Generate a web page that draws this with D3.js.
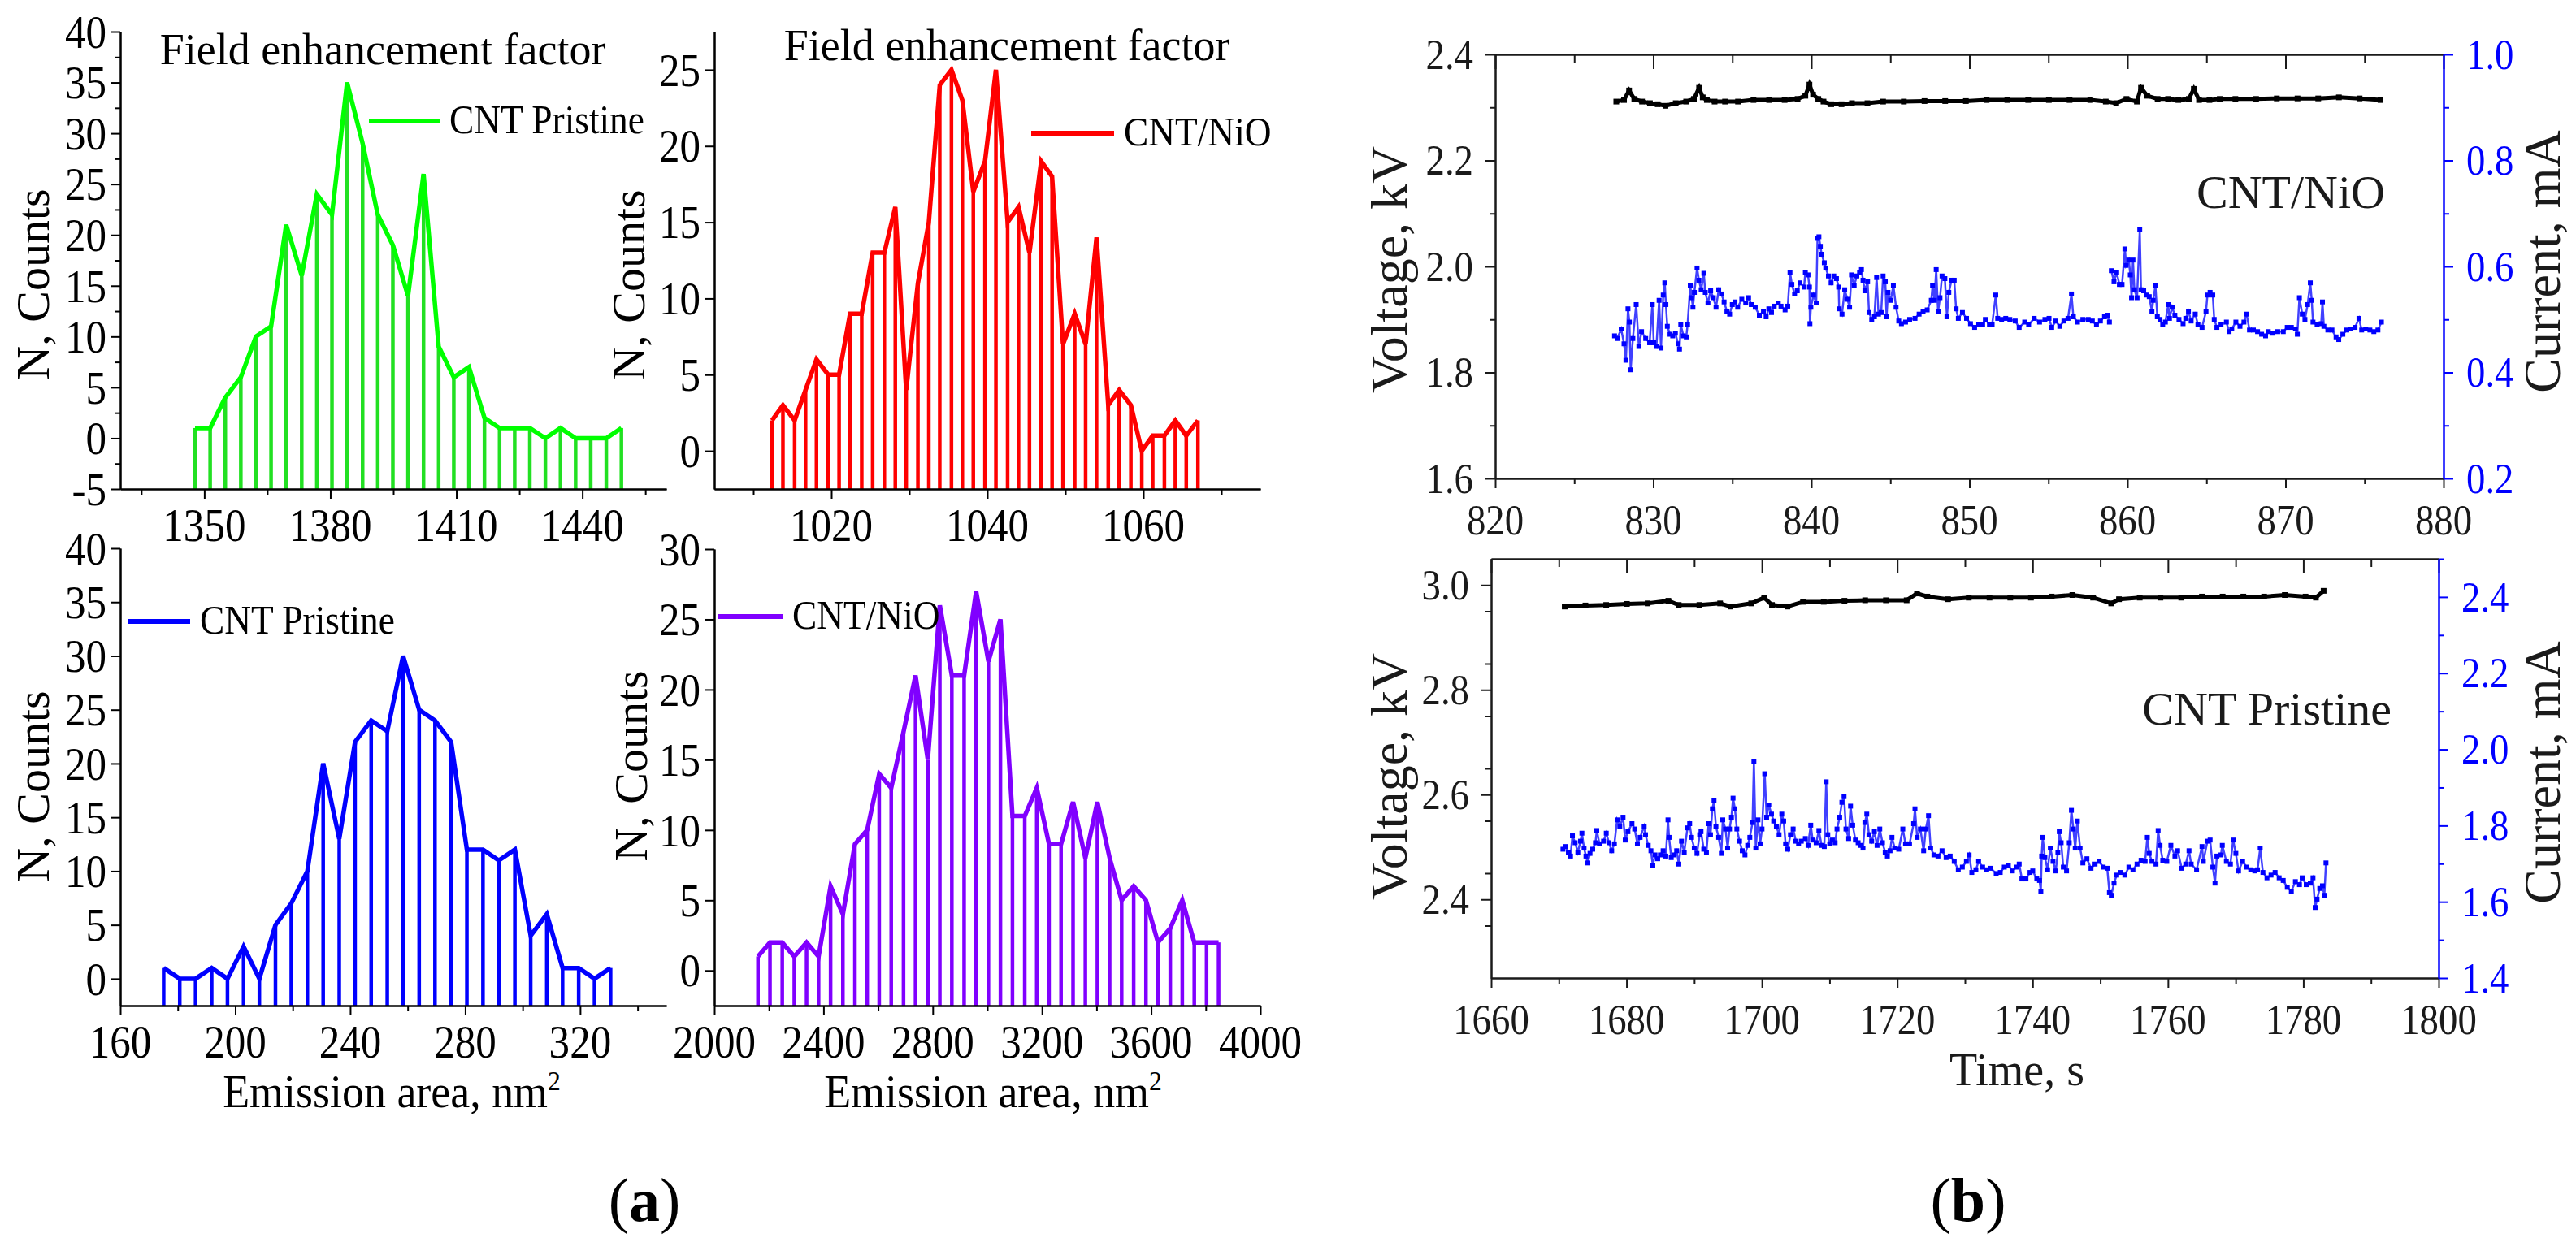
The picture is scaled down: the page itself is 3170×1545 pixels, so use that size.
<!DOCTYPE html>
<html lang="en">
<head>
<meta charset="UTF-8">
<title>Field emission statistics and stability</title>
<script src="https://d3js.org/d3.v7.min.js"></script>
<style>
  body { margin: 0; background: #fff; }
</style>
</head>
<body>
<script>
// ---------- histogram data (a) ----------
// field enhancement factor, CNT pristine
const fefPristineBins = [1347.8, 1351.4, 1355.0, 1358.7, 1362.3, 1365.9, 1369.5, 1373.2, 1376.8, 1380.4, 1384.0, 1387.7, 1391.3, 1394.9, 1398.5, 1402.2, 1405.8, 1409.4, 1413.0, 1416.7, 1420.3, 1423.9, 1427.5, 1431.2, 1434.8, 1438.4, 1442.0, 1445.7, 1449.3]
const fefPristineN = [1, 1, 4, 6, 10, 11, 21, 16, 24, 22, 35, 29, 22, 19, 14, 26, 9, 6, 7, 2, 1, 1, 1, 0, 1, 0, 0, 0, 1]
// field enhancement factor, CNT/NiO
const fefNiOBins = [1012.4, 1013.8, 1015.3, 1016.7, 1018.1, 1019.6, 1021.0, 1022.4, 1023.9, 1025.3, 1026.8, 1028.2, 1029.6, 1031.1, 1032.5, 1033.9, 1035.4, 1036.8, 1038.2, 1039.7, 1041.1, 1042.6, 1044.0, 1045.4, 1046.9, 1048.3, 1049.7, 1051.2, 1052.6, 1054.0, 1055.5, 1056.9, 1058.4, 1059.8, 1061.2, 1062.7, 1064.1, 1065.5, 1067.0]
const fefNiON = [2, 3, 2, 4, 6, 5, 5, 9, 9, 13, 13, 16, 4, 11, 15, 24, 25, 23, 17, 19, 25, 15, 16, 13, 19, 18, 7, 9, 7, 14, 3, 4, 3, 0, 1, 1, 2, 1, 2]
// emission area, CNT pristine
const areaPristineBins = [175.1, 180.7, 186.2, 191.8, 197.3, 202.9, 208.4, 214.0, 219.5, 225.1, 230.6, 236.2, 241.7, 247.3, 252.9, 258.4, 264.0, 269.5, 275.1, 280.6, 286.2, 291.7, 297.3, 302.8, 308.4, 313.9, 319.5, 325.0, 330.6]
const areaPristineN = [1, 0, 0, 1, 0, 3, 0, 5, 7, 10, 20, 13, 22, 24, 23, 30, 25, 24, 22, 12, 12, 11, 12, 4, 6, 1, 1, 0, 1]
// emission area, CNT/NiO
const areaNiOBins = [2160, 2204, 2249, 2293, 2338, 2382, 2426, 2471, 2515, 2560, 2604, 2648, 2693, 2737, 2782, 2826, 2870, 2915, 2959, 3004, 3048, 3092, 3137, 3181, 3226, 3270, 3314, 3359, 3403, 3448, 3492, 3536, 3581, 3625, 3670, 3714, 3758, 3803, 3847]
const areaNiON = [1, 2, 2, 1, 2, 1, 6, 4, 9, 10, 14, 13, 17, 21, 15, 26, 21, 21, 27, 22, 25, 11, 11, 13, 9, 9, 12, 8, 12, 8, 5, 6, 5, 2, 3, 5, 2, 2, 2]

// tick values
const fefPristineXTicks = [1350, 1380, 1410, 1440]
const fefPristineXMinor = [1335, 1365, 1395, 1425, 1455]
const fefPristineYTicks = [-5, 0, 5, 10, 15, 20, 25, 30, 35, 40]
const fefNiOXTicks = [1020, 1040, 1060]
const fefNiOXMinor = [1010, 1030, 1050, 1070]
const fefNiOYTicks = [0, 5, 10, 15, 20, 25]
const areaPristineXTicks = [160, 200, 240, 280, 320]
const areaPristineXMinor = [180, 220, 260, 300, 340]
const areaPristineYTicks = [0, 5, 10, 15, 20, 25, 30, 35, 40]
const areaNiOXTicks = [2000, 2400, 2800, 3200, 3600, 4000]
const areaNiOXMinor = [2200, 2600, 3000, 3400, 3800]
const areaNiOYTicks = [0, 5, 10, 15, 20, 25, 30]

// ---------- time series data (b): [time s, value] ----------
const niCurrent = [[827.55,.469],[827.72,.464],[827.97,.482],[828.15,.454],[828.27,.423],[828.40,.520],[828.49,.495],[828.57,.405],[828.71,.464],[828.92,.528],[829.09,.449],[829.26,.477],[829.52,.464],[829.77,.456],[829.94,.528],[830.03,.456],[830.20,.449],[830.37,.536],[830.49,.446],[830.63,.546],[830.73,.569],[830.80,.528],[830.89,.487],[831.06,.472],[831.23,.469],[831.40,.474],[831.57,.454],[831.66,.444],[831.74,.490],[831.91,.469],[832.09,.467],[832.17,.490],[832.34,.564],[832.43,.541],[832.51,.523],[832.60,.551],[832.77,.597],[832.89,.574],[833.03,.556],[833.20,.587],[833.29,.551],[833.46,.531],[833.63,.554],[833.80,.541],[833.97,.523],[834.14,.556],[834.31,.548],[834.48,.533],[834.66,.515],[834.83,.510],[835.00,.528],[835.17,.533],[835.34,.523],[835.60,.538],[835.85,.531],[836.03,.541],[836.20,.528],[836.45,.523],[836.71,.508],[836.97,.515],[837.14,.505],[837.31,.520],[837.48,.513],[837.65,.525],[837.91,.531],[838.08,.525],[838.34,.518],[838.51,.525],[838.65,.589],[838.77,.566],[838.94,.548],[839.11,.554],[839.28,.569],[839.54,.561],[839.62,.589],[839.79,.584],[839.88,.561],[839.91,.492],[839.97,.523],[840.14,.546],[840.31,.531],[840.39,.653],[840.48,.656],[840.57,.638],[840.65,.623],[840.82,.607],[840.91,.597],[841.08,.582],[841.25,.569],[841.42,.582],[841.59,.577],[841.73,.561],[841.76,.520],[841.94,.510],[842.11,.556],[842.28,.538],[842.42,.523],[842.54,.584],[842.71,.564],[842.88,.582],[843.05,.589],[843.17,.594],[843.27,.574],[843.39,.554],[843.56,.571],[843.65,.513],[843.82,.500],[843.99,.505],[844.13,.579],[844.25,.510],[844.42,.513],[844.54,.582],[844.68,.571],[844.76,.505],[844.85,.551],[845.02,.536],[845.19,.564],[845.36,.523],[845.53,.497],[845.70,.492],[845.96,.495],[846.22,.500],[846.56,.502],[846.82,.510],[847.07,.515],[847.33,.518],[847.59,.536],[847.67,.564],[847.79,.536],[847.90,.594],[848.02,.515],[848.14,.541],[848.27,.582],[848.45,.577],[848.58,.505],[848.70,.551],[848.87,.574],[849.04,.574],[849.16,.520],[849.30,.502],[849.56,.513],[849.82,.502],[850.07,.492],[850.33,.485],[850.59,.490],[850.84,.490],[851.01,.500],[851.27,.490],[851.44,.490],[851.67,.546],[851.79,.502],[852.04,.500],[852.30,.502],
  [852.56,.500],[852.90,.497],[853.15,.485],[853.50,.495],[853.75,.490],[854.10,.502],[854.44,.495],[854.78,.500],[855.04,.502],[855.21,.485],[855.47,.497],[855.72,.487],[855.98,.497],[856.24,.502],[856.46,.548],[856.58,.505],[856.84,.495],[857.18,.500],[857.52,.500],[857.78,.497],[858.04,.490],[858.29,.497],[858.55,.505],[858.72,.508],[858.86,.495],[858.92,null],[858.98,.592],[859.15,.571],[859.32,.589],[859.49,.566],[859.66,.566],[859.84,.633],[859.92,.602],[860.09,.612],[860.18,.584],[860.26,.541],[860.35,.612],[860.44,.556],[860.61,.541],[860.78,.669],[860.86,.556],[861.03,.554],[861.21,.546],[861.38,.543],[861.55,.515],[861.63,.536],[861.77,.564],[861.89,.505],[862.06,.500],[862.23,.490],[862.40,.495],[862.58,.528],[862.66,.502],[862.83,.523],[863.00,.508],[863.26,.500],[863.52,.492],[863.69,.502],[863.86,.515],[864.03,.497],[864.29,.510],[864.46,.490],[864.72,.485],[864.97,.515],[865.06,.546],[865.23,.551],[865.40,.546],[865.49,.500],[865.66,.485],[865.92,.490],[866.26,.495],[866.43,.477],[866.60,.482],[866.86,.495],[867.12,.487],[867.37,.495],[867.54,.510],[867.72,.480],[867.97,.480],[868.23,.477],[868.49,.472],[868.74,.469],[868.91,.477],[869.17,.474],[869.51,.477],[869.86,.477],[870.11,.485],[870.37,.485],[870.63,.482],[870.75,.472],[870.88,.541],[871.06,.510],[871.23,.500],[871.40,.528],[871.57,.569],[871.66,.536],[871.74,.495],[872.00,.490],[872.26,.492],[872.34,.533],[872.43,.487],[872.68,.480],[872.94,.480],[873.20,.467],[873.37,.462],[873.63,.472],[873.88,.480],[874.14,.482],[874.40,.485],[874.65,.502],[874.82,.480],[875.08,.482],[875.34,.480],[875.59,.477],[875.85,.480],[876.07,.495]]

const niVoltage = [[827.66,2.311],[828.15,2.314],[828.47,2.332],[828.80,2.316],[829.29,2.311],[829.79,2.308],[830.28,2.306],[830.77,2.303],[831.42,2.308],[832.08,2.311],[832.57,2.316],[832.90,2.337],[833.13,2.319],[833.39,2.314],[833.88,2.311],[834.54,2.311],[835.36,2.311],[836.34,2.314],[837.33,2.314],[838.31,2.314],[839.13,2.316],[839.62,2.322],[839.88,2.343],[840.11,2.324],[840.44,2.316],[840.77,2.311],[841.26,2.306],[841.91,2.306],[842.57,2.308],[843.55,2.308],[844.54,2.311],[845.85,2.311],[847.16,2.312],[848.47,2.312],[849.78,2.312],[851.09,2.314],[852.40,2.314],[853.72,2.314],[855.03,2.314],[856.34,2.314],[857.65,2.314],[858.63,2.311],[859.29,2.308],[859.94,2.316],[860.60,2.311],[860.86,2.337],[861.25,2.322],[861.91,2.316],[862.57,2.316],[863.22,2.314],[863.88,2.316],[864.20,2.335],[864.53,2.314],[865.19,2.314],[865.84,2.316],[866.83,2.316],[868.14,2.316],[869.45,2.317],[870.76,2.317],[872.07,2.317],[873.38,2.319],[874.69,2.317],[876.01,2.314]]

const prCurrent = [[1670.61,1.738],[1671.01,1.745],[1671.41,1.730],[1671.73,1.720],[1672.01,1.773],[1672.41,1.755],[1672.81,1.730],[1673.21,1.759],[1673.41,1.780],[1673.73,1.741],[1674.01,1.720],[1674.29,1.702],[1674.61,1.727],[1675.01,1.738],[1675.41,1.755],[1675.61,1.787],[1676.01,1.752],[1676.61,1.759],[1677.01,1.780],[1677.41,1.755],[1677.81,1.734],[1678.21,1.752],[1678.61,1.815],[1679.01,1.798],[1679.49,1.822],[1679.81,1.762],[1680.21,1.784],[1680.81,1.805],[1681.21,1.791],[1681.61,1.752],[1682.01,1.769],[1682.61,1.798],[1682.81,1.776],[1683.21,1.748],[1683.61,1.734],[1683.89,1.695],[1684.21,1.723],[1684.61,1.713],[1685.01,1.723],[1685.41,1.734],[1685.81,1.720],[1686.13,1.815],[1686.29,1.769],[1686.61,1.716],[1687.01,1.723],[1687.41,1.734],[1687.73,1.699],[1688.13,1.759],[1688.53,1.730],[1689.01,1.794],[1689.33,1.805],[1689.61,1.769],[1690.01,1.741],[1690.41,1.727],[1690.81,1.776],[1691.01,1.784],[1691.41,1.738],[1691.81,1.730],[1692.13,1.805],[1692.41,1.776],[1692.69,1.844],[1692.93,1.865],[1693.21,1.798],[1693.61,1.769],[1694.01,1.727],[1694.22,1.815],[1694.62,1.791],[1694.94,1.741],[1695.22,1.791],[1695.50,1.822],[1695.74,1.872],[1696.02,1.844],[1696.30,1.791],[1696.70,1.759],[1697.10,1.734],[1697.50,1.723],[1697.90,1.748],[1698.22,1.769],[1698.62,1.808],[1698.82,1.968],[1699.10,1.741],[1699.42,1.815],[1699.74,1.752],[1700.02,1.791],[1700.42,1.936],[1700.70,1.822],[1701.02,1.854],[1701.42,1.830],[1701.74,1.812],[1702.14,1.798],[1702.54,1.776],[1702.94,1.830],[1703.22,1.812],[1703.50,1.752],[1703.82,1.738],[1704.22,1.776],[1704.62,1.791],[1705.02,1.759],[1705.42,1.752],[1705.82,1.759],[1706.42,1.766],[1706.82,1.748],[1707.22,1.801],[1707.50,1.762],[1708.02,1.755],[1708.42,1.787],[1708.82,1.748],[1709.22,1.745],[1709.50,1.915],[1709.74,1.776],[1710.02,1.752],[1710.42,1.762],[1710.82,1.755],[1711.10,1.791],[1711.50,1.822],[1711.82,1.861],[1712.14,1.876],[1712.42,1.791],[1712.82,1.766],[1713.10,1.851],[1713.42,1.801],[1713.82,1.762],[1714.22,1.755],[1714.62,1.748],[1714.94,1.741],[1715.22,1.808],[1715.50,1.830],[1715.82,1.776],[1716.22,1.759],[1716.62,1.784],[1717.02,1.748],[1717.42,1.791],[1717.82,1.755],[1718.22,1.730],[1718.54,1.720],[1718.94,1.734],[1719.22,1.769],[1719.62,1.741],[1720.22,1.738],[1720.82,1.791],[1721.22,1.752],[1721.82,1.752],[1722.42,1.805],[1722.62,1.844],[1722.94,1.769],[1723.42,1.791],[1723.90,1.734],[1724.22,1.791],[1724.62,1.826],[1724.94,1.741],[1725.42,1.723],[1726.02,1.720],[1726.62,1.734],[1727.22,1.716],[1727.82,1.720],
  [1728.42,1.706],[1729.02,1.684],[1729.62,1.691],[1730.22,1.706],[1730.62,1.723],[1731.02,1.677],[1731.62,1.684],[1732.02,1.706],[1732.62,1.691],[1733.22,1.684],[1733.82,1.688],[1734.62,1.674],[1735.22,1.677],[1735.82,1.691],[1736.42,1.695],[1737.02,1.681],[1737.62,1.691],[1738.02,1.699],[1738.42,1.660],[1739.02,1.660],[1739.62,1.677],[1740.02,1.681],[1740.62,1.660],[1741.02,1.656],[1741.22,1.628],[1741.34,1.720],[1741.50,1.769],[1741.82,1.716],[1742.22,1.684],[1742.62,1.741],[1743.02,1.706],[1743.42,1.681],[1743.74,1.730],[1743.94,1.784],[1744.22,1.755],[1744.54,1.691],[1745.02,1.681],[1745.42,1.755],[1745.74,1.840],[1746.02,1.791],[1746.30,1.741],[1746.62,1.812],[1747.02,1.741],[1747.43,1.702],[1748.03,1.713],[1748.63,1.688],[1749.23,1.699],[1749.83,1.706],[1750.43,1.691],[1751.03,1.688],[1751.35,1.624],[1751.63,1.617],[1752.03,1.649],[1752.43,1.670],[1753.03,1.677],[1753.63,1.670],[1754.23,1.691],[1754.83,1.684],[1755.43,1.699],[1756.03,1.709],[1756.63,1.706],[1756.95,1.769],[1757.23,1.727],[1757.63,1.706],[1758.23,1.699],[1758.55,1.787],[1758.83,1.748],[1759.23,1.709],[1759.83,1.706],[1760.43,1.748],[1761.03,1.720],[1761.43,1.734],[1762.03,1.688],[1762.63,1.699],[1763.11,1.734],[1763.43,1.699],[1764.23,1.684],[1765.03,1.745],[1765.23,1.706],[1765.83,1.759],[1766.23,1.762],[1766.63,1.691],[1766.95,1.649],[1767.23,1.720],[1767.83,1.723],[1768.03,1.748],[1768.63,1.706],[1769.23,1.699],[1769.63,1.762],[1770.03,1.727],[1770.43,1.681],[1771.03,1.706],[1771.63,1.691],[1772.23,1.684],[1772.83,1.681],[1773.23,1.684],[1773.63,1.741],[1774.03,1.677],[1774.63,1.663],[1775.23,1.670],[1775.83,1.677],[1776.43,1.663],[1777.03,1.656],[1777.63,1.638],[1778.23,1.628],[1778.83,1.653],[1779.43,1.645],[1779.83,1.663],[1780.43,1.645],[1781.03,1.649],[1781.43,1.663],[1781.75,1.585],[1782.03,1.607],[1782.43,1.635],[1782.83,1.642],[1783.11,1.617],[1783.35,1.702]]

const prVoltage = [[1670.87,2.959],[1673.93,2.961],[1677.00,2.962],[1680.06,2.964],[1683.12,2.965],[1686.18,2.970],[1687.71,2.962],[1690.77,2.962],[1693.83,2.965],[1695.36,2.959],[1698.43,2.965],[1700.34,2.976],[1701.49,2.962],[1703.78,2.959],[1706.08,2.968],[1709.14,2.968],[1712.20,2.970],[1715.26,2.971],[1718.33,2.971],[1721.39,2.971],[1722.92,2.984],[1724.45,2.978],[1727.51,2.973],[1730.57,2.976],[1733.63,2.976],[1736.70,2.976],[1739.76,2.976],[1742.82,2.978],[1745.88,2.981],[1748.94,2.976],[1751.62,2.965],[1752.77,2.973],[1755.83,2.976],[1758.89,2.976],[1761.96,2.976],[1765.02,2.978],[1768.08,2.978],[1771.14,2.978],[1774.21,2.978],[1777.27,2.981],[1780.33,2.978],[1781.86,2.976],[1783.00,2.989]]

const niXTicks = [820, 830, 840, 850, 860, 870, 880]
const niVTicks = [1.6, 1.8, 2.0, 2.2, 2.4]
const niITicks = [0.2, 0.4, 0.6, 0.8, 1.0]
const prXTicks = [1660, 1680, 1700, 1720, 1740, 1760, 1780, 1800]
const prVTicks = [2.4, 2.6, 2.8, 3.0]
const prITicks = [1.4, 1.6, 1.8, 2.0, 2.2, 2.4]

// ---------- drawing ----------
const W = 3170, H = 1545
const svg = d3.select("body").append("svg")
    .attr("width", W).attr("height", H)
    .attr("font-family", "'Liberation Serif', 'Times New Roman', serif")
svg.append("rect").attr("width", W).attr("height", H).attr("fill", "#fff")

// text helper; sx squeezes glyphs horizontally like the source picture
function txt(g, x, y, s, size, o = {}) {
    const t = g.append("text")
        .attr("transform", `translate(${x},${y})` + (o.rot ? ` rotate(${o.rot})` : "") + ` scale(${o.sx || 1},1)`)
        .attr("font-size", size)
        .attr("text-anchor", o.anchor || "start")
        .attr("fill", o.fill || "#000")
    if (o.dy) t.attr("dy", o.dy)
    if (o.weight) t.attr("font-weight", o.weight)
    t.text(s)
    return t
}

function styleAxis(sel, color) {
    sel.selectAll(".domain").attr("stroke", color).attr("stroke-width", 2)
    sel.selectAll(".tick line").attr("stroke", color).attr("stroke-width", 2)
    sel.selectAll(".tick text").remove()
}

function histogram(p) {
    const x = d3.scaleLinear().domain(p.xDomain).range([p.left, p.right])
    const y = d3.scaleLinear().domain(p.yDomain).range([p.bottom, p.top])
    const g = svg.append("g")
    const yMinor = d3.range(p.yDomain[0] + 2.5, p.yDomain[1] + 0.01, 5)
        .filter(v => !p.yTicks.includes(v) && v > p.yDomain[0])

    // drop lines
    g.selectAll("line.bar").data(d3.zip(p.bins, p.counts)).join("line")
        .attr("x1", d => x(d[0])).attr("x2", d => x(d[0]))
        .attr("y1", y(p.yDomain[0])).attr("y2", d => y(d[1]))
        .attr("stroke", p.barColor).attr("stroke-width", 4.5)
    // outline
    g.append("path").datum(d3.zip(p.bins, p.counts))
        .attr("d", d3.line().x(d => x(d[0])).y(d => y(d[1])))
        .attr("fill", "none").attr("stroke", p.color).attr("stroke-width", 5.5)
        .attr("stroke-linejoin", "miter")

    // axes
    const ax = g.append("g").attr("transform", `translate(0,${p.bottom})`)
        .call(d3.axisBottom(x).tickValues(p.xTicks).tickSize(12).tickSizeOuter(0))
    const axm = g.append("g").attr("transform", `translate(0,${p.bottom})`)
        .call(d3.axisBottom(x).tickValues(p.xMinor).tickSize(7).tickSizeOuter(0))
    const ay = g.append("g").attr("transform", `translate(${p.left},0)`)
        .call(d3.axisLeft(y).tickValues(p.yTicks).tickSize(11).tickSizeOuter(0))
    const aym = g.append("g").attr("transform", `translate(${p.left},0)`)
        .call(d3.axisLeft(y).tickValues(yMinor).tickSize(6).tickSizeOuter(0))
    ;[ax, axm, ay, aym].forEach(a => styleAxis(a, "#000"))

    p.xTicks.forEach(v => txt(g, x(v), p.bottom + 64, v, 58, { anchor: "middle", sx: 0.88 }))
    p.yTicks.forEach(v => txt(g, p.left - 17, y(v), v, 58, { anchor: "end", sx: 0.88, dy: "0.34em" }))

    // legend
    g.append("line").attr("x1", p.legend[0]).attr("x2", p.legend[1])
        .attr("y1", p.legend[2]).attr("y2", p.legend[2])
        .attr("stroke", p.color).attr("stroke-width", 6)
    txt(g, p.legend[1] + 12, p.legend[2] + 15, p.name, 51, { sx: 0.89 })

    txt(g, p.yLabel[0], p.yLabel[1], "N, Counts", 58, { rot: -90, anchor: "middle" })
    if (p.title) txt(g, p.title[0], p.title[1], "Field enhancement factor", 54, { anchor: "middle" })
    if (p.xTitle) {
        const t = txt(g, p.xTitle[0], p.xTitle[1], "Emission area, nm", 58, { anchor: "middle", sx: 0.93 })
        t.append("tspan").attr("dy", -21).attr("font-size", 34).text("2")
    }
}

histogram({
    bins: fefPristineBins, counts: fefPristineN, color: "#00ff00", barColor: "#22e022",
    xDomain: [1330, 1460], yDomain: [-5, 40], left: 148, right: 820, top: 39, bottom: 602,
    xTicks: fefPristineXTicks, xMinor: fefPristineXMinor, yTicks: fefPristineYTicks,
    legend: [454, 541, 149], name: "CNT Pristine", yLabel: [60, 350], title: [471, 79]
})
histogram({
    bins: fefNiOBins, counts: fefNiON, color: "#ff0000", barColor: "#ff0000",
    xDomain: [1005, 1075], yDomain: [-2.5, 27.5], left: 879, right: 1551, top: 39, bottom: 602,
    xTicks: fefNiOXTicks, xMinor: fefNiOXMinor, yTicks: fefNiOYTicks,
    legend: [1269, 1371, 164], name: "CNT/NiO", yLabel: [793, 351], title: [1239, 74]
})
histogram({
    bins: areaPristineBins, counts: areaPristineN, color: "#0000ff", barColor: "#0000ff",
    xDomain: [160, 350], yDomain: [-2.5, 40], left: 148, right: 820, top: 675, bottom: 1238,
    xTicks: areaPristineXTicks, xMinor: areaPristineXMinor, yTicks: areaPristineYTicks,
    legend: [157, 234, 765], name: "CNT Pristine", yLabel: [60, 968], xTitle: [482, 1363]
})
histogram({
    bins: areaNiOBins, counts: areaNiON, color: "#8000ff", barColor: "#8000ff",
    xDomain: [2000, 4000], yDomain: [-2.5, 30], left: 879, right: 1551, top: 676, bottom: 1238,
    xTicks: areaNiOXTicks, xMinor: areaNiOXMinor, yTicks: areaNiOYTicks,
    legend: [884, 963, 759], name: "CNT/NiO", yLabel: [796, 943], xTitle: [1222, 1363]
})

function timePanel(p) {
    const x = d3.scaleLinear().domain(p.xDomain).range([p.left, p.right])
    const yV = d3.scaleLinear().domain(p.vDomain).range([p.bottom, p.top])
    const yI = d3.scaleLinear().domain(p.iDomain).range([p.bottom, p.top])
    const g = svg.append("g")
    const ink = "#1a1a1a", blue = "#0000ff"

    const xMinor = p.xTicks.slice(0, -1).map((v, i) => (v + p.xTicks[i + 1]) / 2)
    const vMinor = d3.range(p.vDomain[0], p.vDomain[1], 0.1).map(v => +v.toFixed(2))
        .filter(v => !p.vTicks.some(t => Math.abs(t - v) < 1e-6) && v > p.vDomain[0] + 1e-6)
    const iMinor = p.iTicks.slice(0, -1).map((v, i) => +((v + p.iTicks[i + 1]) / 2).toFixed(2))
        .concat(p.iExtraMinor || [])

    // voltage trace
    g.append("path").datum(p.voltage)
        .attr("d", d3.line().x(d => x(d[0])).y(d => yV(d[1])))
        .attr("fill", "none").attr("stroke", "#000").attr("stroke-width", 5)
    g.selectAll("rect.v").data(p.voltage).join("rect")
        .attr("x", d => x(d[0]) - 3.5).attr("y", d => yV(d[1]) - 3.5)
        .attr("width", 7).attr("height", 7).attr("fill", "#000")

    // current trace
    g.append("path").datum(p.current)
        .attr("d", d3.line().defined(d => d[1] != null).x(d => x(d[0])).y(d => yI(d[1])))
        .attr("fill", "none").attr("stroke", blue).attr("stroke-width", 2.5).attr("stroke-opacity", 0.75)
    g.selectAll("rect.c").data(p.current.filter(d => d[1] != null)).join("rect")
        .attr("x", d => x(d[0]) - 3).attr("y", d => yI(d[1]) - 3)
        .attr("width", 6).attr("height", 6).attr("fill", blue)

    // frame + ticks
    const axes = [
        [d3.axisBottom(x).tickValues(p.xTicks).tickSize(12), `translate(0,${p.bottom})`, ink],
        [d3.axisBottom(x).tickValues(xMinor).tickSize(7), `translate(0,${p.bottom})`, ink],
        [d3.axisTop(x).tickValues(p.xTicks).tickSize(-18), `translate(0,${p.top})`, ink],
        [d3.axisTop(x).tickValues(xMinor).tickSize(-10), `translate(0,${p.top})`, ink],
        [d3.axisLeft(yV).tickValues(p.vTicks).tickSize(12), `translate(${p.left},0)`, ink],
        [d3.axisLeft(yV).tickValues(vMinor).tickSize(7), `translate(${p.left},0)`, ink],
        [d3.axisRight(yI).tickValues(p.iTicks).tickSize(12), `translate(${p.right},0)`, blue],
        [d3.axisRight(yI).tickValues(iMinor).tickSize(7), `translate(${p.right},0)`, blue]
    ]
    axes.forEach(([a, tr, c]) => {
        const s = g.append("g").attr("transform", tr).call(a.tickSizeOuter(0))
        styleAxis(s, c)
    })

    const f1 = d3.format(".1f")
    p.xTicks.forEach(v => txt(g, x(v), p.bottom + 69, v, 52, { anchor: "middle", sx: 0.9, fill: ink }))
    p.vTicks.forEach(v => txt(g, p.left - 27, yV(v), f1(v), 52, { anchor: "end", sx: 0.9, dy: "0.34em", fill: ink }))
    p.iTicks.forEach(v => txt(g, p.right + 28, yI(v), f1(v), 52, { sx: 0.9, dy: "0.34em", fill: blue }))

    txt(g, 1731, p.vLabelY, "Voltage, kV", 64, { rot: -90, anchor: "middle", fill: ink })
    txt(g, 3150, p.iLabelY, "Current, mA", 64, { rot: -90, anchor: "middle", fill: ink })
    txt(g, p.name[1], p.name[2], p.name[0], 58, { anchor: "end", fill: ink })
}

timePanel({
    current: niCurrent, voltage: niVoltage,
    xDomain: [820, 880], vDomain: [1.6, 2.4], iDomain: [0.2, 1.0],
    left: 1840, right: 3007, top: 67, bottom: 589,
    xTicks: niXTicks, vTicks: niVTicks, iTicks: niITicks,
    vLabelY: 332, iLabelY: 322, name: ["CNT/NiO", 2935, 256]
})
timePanel({
    current: prCurrent, voltage: prVoltage,
    xDomain: [1660, 1800], vDomain: [2.25, 3.05], iDomain: [1.4, 2.5],
    left: 1835, right: 3001, top: 688, bottom: 1204,
    xTicks: prXTicks, vTicks: prVTicks, iTicks: prITicks, iExtraMinor: [2.5],
    vLabelY: 956, iLabelY: 951, name: ["CNT Pristine", 2943, 892]
})
txt(svg, 2482, 1336, "Time, s", 56, { anchor: "middle", fill: "#1a1a1a" })

// panel letters
;[["a", 793], ["b", 2422]].forEach(([k, cx]) => {
    const t = txt(svg, cx, 1503, "(", 76, { anchor: "middle" })
    t.append("tspan").attr("font-weight", "bold").text(k)
    t.append("tspan").text(")")
})
</script>
</body>
</html>
